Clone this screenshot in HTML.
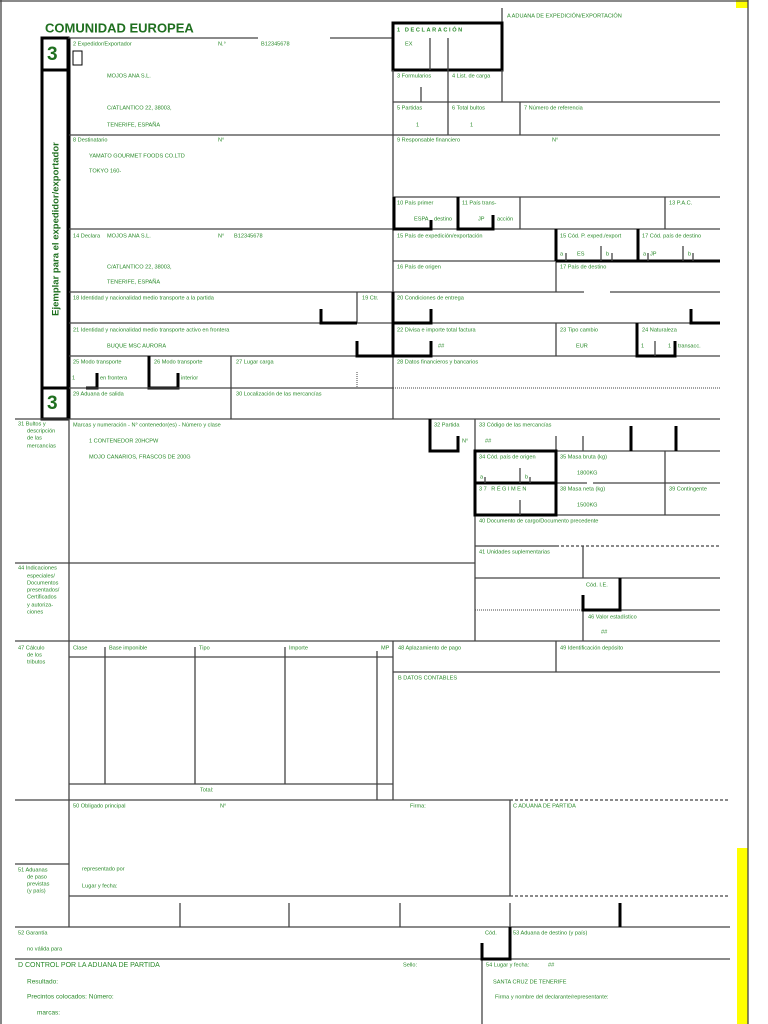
<!DOCTYPE html>
<html><head><meta charset="utf-8"><style>
html,body{margin:0;padding:0;background:#fff;width:768px;height:1024px;overflow:hidden}
svg{display:block}
text{font-family:"Liberation Sans",sans-serif;fill:#2a8a2a;font-size:5.6px;dominant-baseline:middle}
.t{stroke:#444;stroke-width:1.3;fill:none}
.k{stroke:#000;stroke-width:3;fill:none}
.d{stroke:#444;stroke-width:1.2;stroke-dasharray:3 2;fill:none}
.o{stroke:#444;stroke-width:1;stroke-dasharray:1 1;fill:none}
</style></head><body>
<svg width="768" height="1024" viewBox="0 0 768 1024" xmlns="http://www.w3.org/2000/svg">
<rect x="736" y="0" width="12" height="8" fill="#ffff00"/>
<rect x="737" y="848" width="11" height="176" fill="#ffff00"/>
<path class="t" d="M0 1H748 M1 0V1024 M748 0V1024"/>
<path class="k" d="M42 38H68V70H42Z M42 70V388 M68 70V388 M42 388H68V419H42Z M69 38V419"/>
<path class="t" d="M69 419V927 M68 38H258 M330 38H393"/>
<path class="t" d="M502 8V23"/>
<path class="k" d="M393 23H502V70H393Z"/>
<path class="t" d="M430 38V70 M448 38V102 M502 70V102 M421 87V102 M393 70V419 M393 102H720 M448 102V135 M520 102V135"/>
<path class="t" d="M69 135H720 M393 197H720 M69 229H720 M520 197V229 M665 197V229 M556 229V292 M393 261H720"/>
<path class="k" d="M394 197V229H431V220 M458 197V229H493V215 M556 229V261 M638 229V261 M556 261H720"/>
<path class="t" d="M566 253V261 M601 246V261 M612 253V261 M648 253V261 M683 246V261 M693 253V261"/>
<path class="t" d="M69 292H584 M610 292H720 M69 323H720 M69 356H720 M357 292V323 M556 323V356"/>
<path class="k" d="M321 309V323H357 M393 292V356 M357 341V356H431V341 M431 309V323H393 M691 309V323H720 M637 323V356H675V341"/>
<path class="t" d="M655 341V356"/>
<path class="o" d="M393 388H720 M357 372V388"/>
<path class="k" d="M86 388H97V373 M149 356V388H178V373"/>
<path class="t" d="M231 356V419 M69 388H393 M15 419H720"/>
<path class="t" d="M15 563H475 M15 641H720 M475 419V641"/>
<path class="k" d="M430 419V451H458V436"/>
<path class="t" d="M556 436V451 M583 436V451 M475 451H720 M556 451V515 M665 451V515 M556 483H587 M593 483H720 M475 515H720 M475 546H556 M583 546V578 M475 578H720 M583 610H720 M583 610V641"/>
<path class="k" d="M631 426V451 M676 426V451 M475 451H556V515H475Z M475 483H556 M620 578V610H583V595"/>
<path class="t" d="M520 468V483 M520 500V515 M485 477V483 M530 477V483"/>
<path class="d" d="M556 546H720"/>
<path class="o" d="M475 610H583 M475 610V641"/>
<path class="t" d="M69 657H393 M105 647V784 M195 647V784 M285 647V784 M377 651V800 M69 784H393 M393 641V800 M556 641V672 M393 672H720 M15 800H510 M510 800V896 M69 896H510"/>
<path class="d" d="M510 800H730 M510 896H730"/>
<path class="t" d="M15 864H69 M180 903V927 M289 903V927 M400 903V927 M510 903V927 M15 927H730 M15 959H730 M482 959V1024"/>
<path class="k" d="M620 903V927 M482 943V959H510V927"/>

<text x="45" y="29" style="font-size:13px;font-weight:bold;fill:#1f6f1f">COMUNIDAD EUROPEA</text>
<text x="47" y="55" style="font-size:19px;font-weight:bold;fill:#1f6f1f">3</text>
<text x="47" y="404" style="font-size:19px;font-weight:bold;fill:#1f6f1f">3</text>
<rect x="73" y="51" width="9" height="14" fill="none" stroke="#000" stroke-width="1"/>
<text transform="translate(56,229) rotate(-90)" text-anchor="middle" style="font-size:9.5px;font-weight:bold;fill:#1f6f1f">Ejemplar para el expedidor/exportador</text>

<text x="73" y="44">2 Expedidor/Exportador</text><text x="218" y="44">N.°</text><text x="261" y="44">B12345678</text>
<text x="107" y="76">MOJOS ANA S.L.</text><text x="107" y="108">C/ATLANTICO 22, 38003,</text><text x="107" y="125">TENERIFE, ESPAÑA</text>
<text x="73" y="140">8 Destinatario</text><text x="218" y="140">N°</text>
<text x="89" y="156">YAMATO GOURMET FOODS CO.LTD</text><text x="89" y="171">TOKYO 160-</text>
<text x="73" y="236">14 Declara</text><text x="107" y="236">MOJOS ANA S.L.</text><text x="218" y="236">N°</text><text x="234" y="236">B12345678</text>
<text x="107" y="267">C/ATLANTICO 22, 38003,</text><text x="107" y="282">TENERIFE, ESPAÑA</text>
<text x="73" y="298">18 Identidad y nacionalidad medio transporte a la partida</text><text x="362" y="298">19 Ctr.</text>
<text x="73" y="330">21 Identidad y nacionalidad medio transporte activo en frontera</text><text x="107" y="346">BUQUE MSC AURORA</text>
<text x="73" y="362">25 Modo transporte</text><text x="154" y="362">26 Modo transporte</text><text x="236" y="362">27 Lugar carga</text>
<text x="72" y="378">1</text><text x="100" y="378">en frontera</text><text x="181" y="378">interior</text>
<text x="73" y="394">29 Aduana de salida</text><text x="236" y="394">30 Localización de las mercancías</text>

<text x="507" y="16">A ADUANA DE EXPEDICIÓN/EXPORTACIÓN</text>
<text x="397" y="30" style="font-weight:bold;letter-spacing:1.6px">1 DECLARACIÓN</text>
<text x="405" y="44">EX</text>
<text x="397" y="76">3 Formularios</text><text x="452" y="76">4 List. de carga</text>
<text x="397" y="108">5 Partidas</text><text x="452" y="108">6 Total bultos</text><text x="524" y="108">7 Número de referencia</text>
<text x="416" y="125">1</text><text x="470" y="125">1</text>
<text x="397" y="140">9 Responsable financiero</text><text x="552" y="140">N°</text>
<text x="397" y="203">10 País primer</text><text x="462" y="203">11 País trans-</text><text x="669" y="203">13 P.A.C.</text>
<text x="414" y="219">ESPA</text><text x="434" y="219">destino</text><text x="478" y="219">JP</text><text x="497" y="219">acción</text>
<text x="397" y="236">15 País de expedición/exportación</text><text x="560" y="236">15 Cód. P. exped./export</text><text x="642" y="236">17 Cód. país de destino</text>
<text x="560" y="254">a</text><text x="577" y="254">ES</text><text x="606" y="254">b</text><text x="643" y="254">a</text><text x="650" y="254">JP</text><text x="688" y="254">b</text>
<text x="397" y="267">16 País de origen</text><text x="560" y="267">17 País de destino</text>
<text x="397" y="298">20 Condiciones de entrega</text>
<text x="397" y="330">22 Divisa e importe total factura</text><text x="560" y="330">23 Tipo cambio</text><text x="642" y="330">24 Naturaleza</text>
<text x="438" y="346">##</text><text x="576" y="346">EUR</text><text x="641" y="346">1</text><text x="668" y="346">1</text><text x="678" y="346">transacc.</text>
<text x="397" y="362">28 Datos financieros y bancarios</text>

<text x="18" y="424">31 Bultos y</text><text x="27" y="431">descripción</text><text x="27" y="438">de las</text><text x="27" y="446">mercancías</text>
<text x="73" y="425">Marcas y numeración - N° contenedor(es) - Número y clase</text>
<text x="89" y="441">1 CONTENEDOR 20HCPW</text><text x="89" y="457">MOJO CANARIOS, FRASCOS DE 200G</text>
<text x="434" y="425">32 Partida</text><text x="462" y="441">N°</text>
<text x="479" y="425">33 Código de las mercancías</text><text x="485" y="441">##</text>
<text x="479" y="457">34 Cód. país de origen</text><text x="560" y="457">35 Masa bruta (kg)</text>
<text x="480" y="477">a</text><text x="525" y="477">b</text><text x="577" y="473">1800KG</text>
<text x="479" y="489" style="letter-spacing:1.5px">37 RÉGIMEN</text><text x="560" y="489">38 Masa neta (kg)</text><text x="669" y="489">39 Contingente</text>
<text x="577" y="505">1500KG</text>
<text x="479" y="521">40 Documento de cargo/Documento precedente</text>
<text x="479" y="552">41 Unidades suplementarias</text>
<text x="18" y="568">44 Indicaciones</text><text x="27" y="576">especiales/</text><text x="27" y="583">Documentos</text><text x="27" y="590">presentados/</text><text x="27" y="597">Certificados</text><text x="27" y="605">y autoriza-</text><text x="27" y="612">ciones</text>
<text x="586" y="585">Cód. I.E.</text>
<text x="588" y="617">46 Valor estadístico</text><text x="601" y="632">##</text>
<text x="18" y="648">47 Cálculo</text><text x="27" y="655">de los</text><text x="27" y="662">tributos</text>
<text x="73" y="648">Clase</text><text x="109" y="648">Base imponible</text><text x="199" y="648">Tipo</text><text x="289" y="648">Importe</text><text x="381" y="648">MP</text>
<text x="200" y="790">Total:</text>
<text x="398" y="648">48 Aplazamiento de pago</text><text x="560" y="648">49 Identificación depósito</text>
<text x="398" y="678">B DATOS CONTABLES</text>

<text x="73" y="806">50 Obligado principal</text><text x="220" y="806">N°</text><text x="410" y="806">Firma:</text>
<text x="513" y="806">C ADUANA DE PARTIDA</text>
<text x="18" y="870">51 Aduanas</text><text x="27" y="877">de paso</text><text x="27" y="884">previstas</text><text x="27" y="891">(y país)</text>
<text x="82" y="869">representado por</text><text x="82" y="886">Lugar y fecha:</text>
<text x="18" y="933">52 Garantía</text><text x="27" y="949">no válida para</text><text x="485" y="933">Cód.</text><text x="513" y="933">53 Aduana de destino (y país)</text>
<text x="18" y="965" style="font-size:7px">D  CONTROL POR LA ADUANA DE PARTIDA</text><text x="403" y="965">Sello:</text>
<text x="486" y="965">54 Lugar y fecha:</text><text x="548" y="965">##</text>
<text x="27" y="982" style="font-size:6.5px">Resultado:</text><text x="27" y="997" style="font-size:6.5px">Precintos colocados:  Número:</text><text x="37" y="1013" style="font-size:6.5px">marcas:</text>
<text x="493" y="982">SANTA CRUZ DE TENERIFE</text><text x="495" y="997">Firma y nombre del declarante/representante:</text>
</svg>
</body></html>
